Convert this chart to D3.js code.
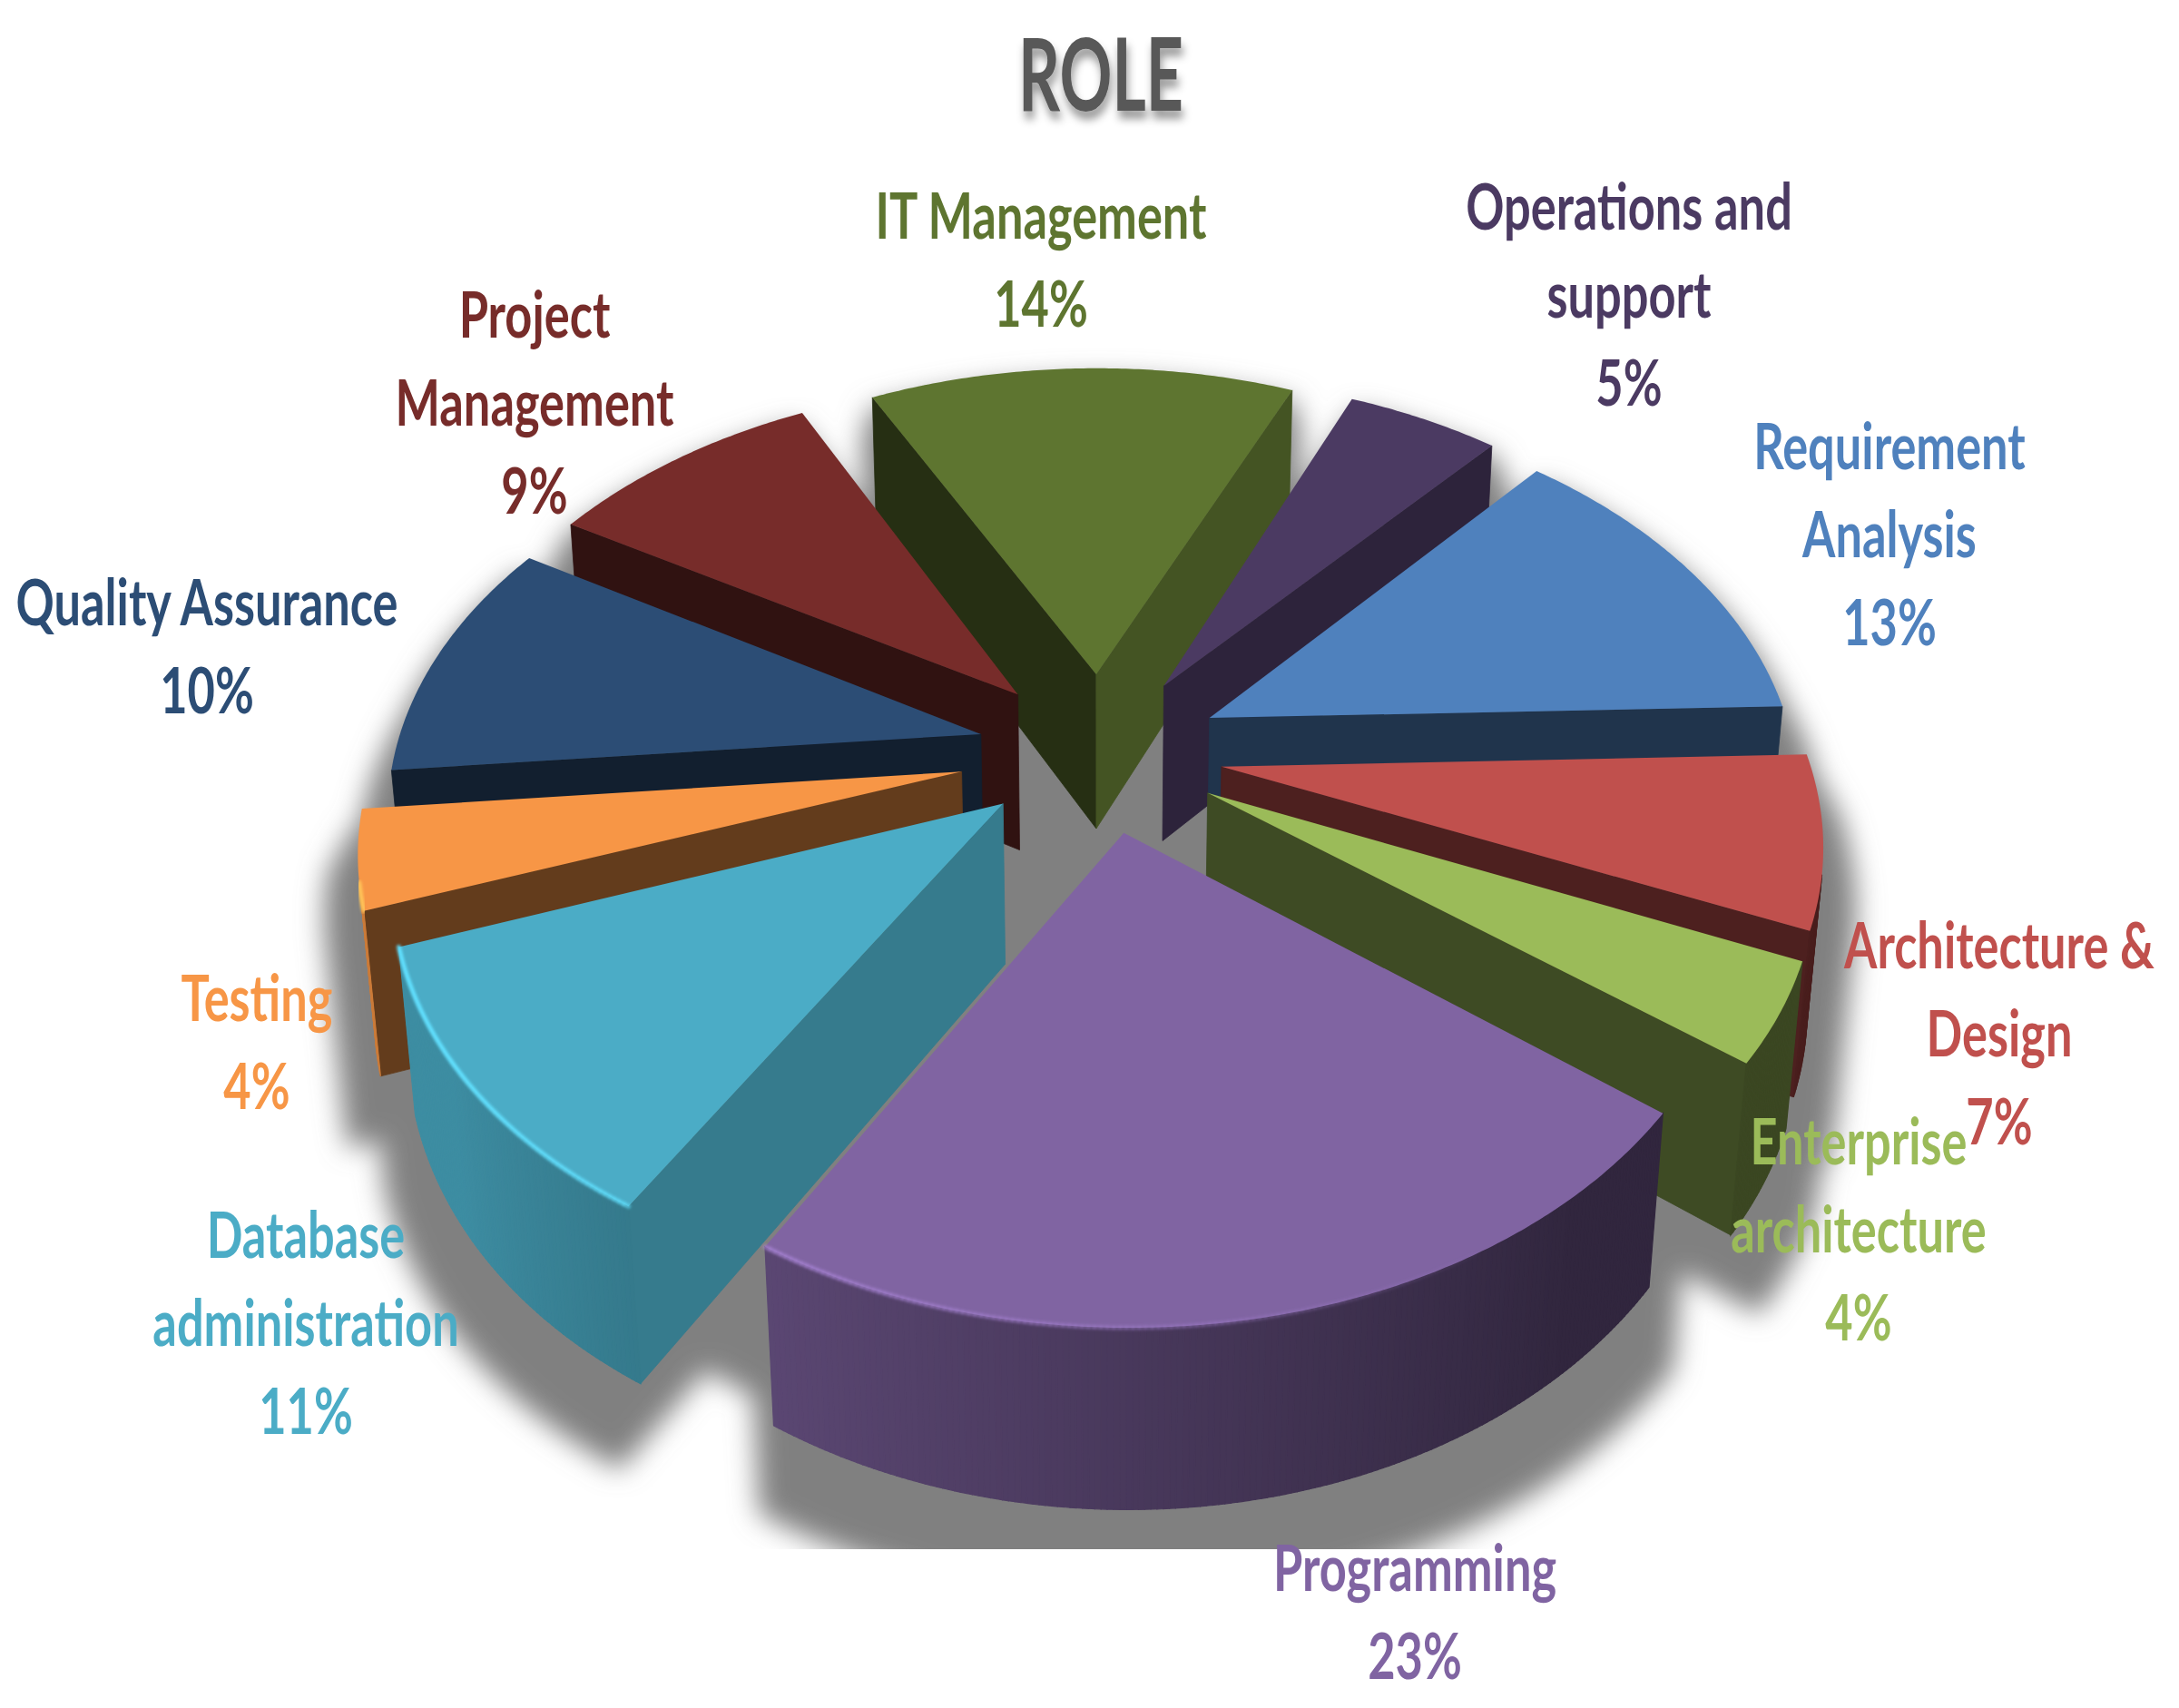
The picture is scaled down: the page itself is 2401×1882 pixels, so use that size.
<!DOCTYPE html>
<html>
<head>
<meta charset="utf-8">
<script src="https://cdn.jsdelivr.net/npm/d3@7"></script>
<style>
  html, body { margin: 0; background: #fff; }
  svg { display: block; }
</style>
</head>
<body>
<svg id="chart"></svg>
<script>
const W = 2401, H = 1882;
const DEG = Math.PI / 180, TAU = Math.PI * 2;

// ---- data (clockwise from the top) ----
const roles = ["IT Management", "Operations and support", "Requirement Analysis",
    "Architecture & Design", "Enterprise architecture", "Programming",
    "Database administration", "Testing", "Quality Assurance", "Project Management"];
const shares = [14, 5, 13, 7, 4, 23, 11, 4, 10, 9];
const labelLines = [
    ["IT Management"],
    ["Operations and", "support"],
    ["Requirement", "Analysis"],
    ["Architecture &", "Design"],
    ["Enterprise", "architecture"],
    ["Programming"],
    ["Database", "administration"],
    ["Testing"],
    ["Quality Assurance"],
    ["Project", "Management"]
];
const colours = ["#5e7530", "#4b3a62", "#4f81bd", "#c0504d", "#9bbb59",
    "#8064a2", "#4bacc6", "#f79646", "#2c4d75", "#772c2a"];

// point explosion (fraction of radius), as set on the original chart
const explodeBy = [0.21, 0.21, 0.21, 0.21, 0.21, 0.21, 0.21, 0.24, 0.21, 0.21];

// label blocks: centre x, first baseline (manually placed, like the original)
const labelAt = [[1147, 263], [1795, 253], [2082, 517], [2203, 1067], [2048, 1283],
    [1559, 1753], [337, 1386], [283, 1125], [228, 689], [589, 372]];

// ---- 3d view ----
const view = {
    cx: 1212, cy: 828,
    kx: 645, ky: 866,
    tilt: 29 * DEG,
    dist: 5.21,
    depth: 0.235,
    rotation: -27 * DEG,
    shadowTop: 420, shadowDrop: 45, shadowGrow: 0.045
};
const sinT = Math.sin(view.tilt), cosT = Math.cos(view.tilt);
const camera = [0, view.dist * cosT, view.dist * sinT];

function project(x, y, z) {
    const v = z * cosT - y * sinT;
    const d = y * cosT + z * sinT;
    const p = 1 / (1 - d / view.dist);
    return [view.cx + view.kx * x * p, view.cy - view.ky * v * p];
}

function facing(P, n) {
    return (camera[0] - P[0]) * n[0] + (camera[1] - P[1]) * n[1] + (camera[2] - P[2]) * n[2] > 0;
}

function shade(c, k) {
    const r = d3.rgb(c);
    return d3.rgb(r.r * k, r.g * k, r.b * k).formatHex();
}

function wallLight(deg) {
    deg = ((deg % 360) + 360) % 360;
    if (deg <= 140) return 0.38;
    if (deg < 235) return 0.38 + 0.44 * (deg - 140) / 95;
    return 0.82;
}

function faceLight(deg) {
    deg = ((deg % 360) + 360) % 360;
    if (deg <= 120) return 0.72;
    if (deg < 150) return 0.72 - 0.32 * (deg - 120) / 30;
    return 0.4;
}

const closed = pts => d3.line()(pts) + "Z";

const total = d3.sum(shares);
const pie = d3.pie().sort(null).value(d => d)
    .startAngle(view.rotation).endAngle(view.rotation + TAU);

const slices = pie(shares).map((a, i) => {
    const mid = (a.startAngle + a.endAngle) / 2;
    return {
        i, a0: a.startAngle, a1: a.endAngle, mid,
        ox: explodeBy[i] * Math.sin(mid),
        oy: -explodeBy[i] * Math.cos(mid),
        colour: colours[i]
    };
});

function rim(s, th, z) {
    return project(s.ox + Math.sin(th), s.oy - Math.cos(th), z);
}
function apex(s, z) {
    return project(s.ox, s.oy, z);
}
function arcAngles(s) {
    const n = Math.max(2, Math.ceil((s.a1 - s.a0) / (0.5 * DEG)));
    return d3.range(n + 1).map(j => s.a0 + (s.a1 - s.a0) * j / n);
}
function slicePoints(s) {
    const pts = [apex(s, 0), apex(s, -view.depth)];
    arcAngles(s).forEach(t => { pts.push(rim(s, t, 0)); pts.push(rim(s, t, -view.depth)); });
    return pts;
}

// ---- svg ----
const svg = d3.select("#chart").attr("width", W).attr("height", H)
    .attr("viewBox", `0 0 ${W} ${H}`);
const defs = svg.append("defs");
defs.append("filter").attr("id", "soft")
    .attr("x", "-20%").attr("y", "-20%").attr("width", "140%").attr("height", "140%")
    .append("feGaussianBlur").attr("stdDeviation", 15);
defs.append("filter").attr("id", "glow")
    .attr("x", "-10%").attr("y", "-10%").attr("width", "120%").attr("height", "120%")
    .append("feGaussianBlur").attr("stdDeviation", 1.8);
defs.append("filter").attr("id", "titleShadow")
    .attr("x", "-30%").attr("y", "-30%").attr("width", "160%").attr("height", "180%")
    .append("feDropShadow").attr("dx", 2).attr("dy", 9).attr("stdDeviation", 5)
    .attr("flood-color", "#000").attr("flood-opacity", 0.4);
defs.append("clipPath").attr("id", "floorClip")
    .append("rect").attr("width", W).attr("height", 1707);

// floor shadow
const floor = d3.range(0, 361, 3).map(d => project(Math.sin(d * DEG), -Math.cos(d * DEG), -view.depth));
const shadowShapes = [floor].concat(slices.map(s => d3.polygonHull(slicePoints(s))));
const shadowG = svg.append("g").attr("clip-path", "url(#floorClip)")
    .append("g").attr("filter", "url(#soft)");
[0.3, 0.45, 0.6, 0.75, 0.9, 1].forEach(t => {
    const k = 1 + view.shadowGrow * t, dy = view.shadowDrop * t;
    shadowG.append("g")
        .attr("transform", `translate(${view.cx},${view.shadowTop + dy}) scale(${k}) translate(${-view.cx},${-view.shadowTop})`)
        .selectAll("path").data(shadowShapes).join("path")
        .attr("d", closed).attr("fill", "#808080");
});

// slices, back to front
const pieG = svg.append("g");
slices.slice().sort((a, b) => a.oy - b.oy).forEach(s => {
    const g = pieG.append("g").attr("class", "slice");
    const h = view.depth;

    // radial cut faces
    [[s.a0, [-Math.cos(s.a0), -Math.sin(s.a0), 0], s.a0 / DEG - 90],
     [s.a1, [Math.cos(s.a1), Math.sin(s.a1), 0], s.a1 / DEG + 90]].forEach(([th, n, nDeg]) => {
        const P = [s.ox + 0.5 * Math.sin(th), s.oy - 0.5 * Math.cos(th), -h / 2];
        if (!facing(P, n)) return;
        const col = shade(s.colour, faceLight(nDeg));
        g.append("path")
            .attr("d", closed([apex(s, 0), rim(s, th, 0), rim(s, th, -h), apex(s, -h)]))
            .attr("fill", col).attr("stroke", col).attr("stroke-width", 0.8);
    });

    // outer wall
    const ang = arcAngles(s);
    const lit = [];
    for (let j = 0; j < ang.length - 1; j++) {
        const t0 = ang[j], t1 = ang[j + 1], tm = (t0 + t1) / 2;
        const n = [Math.sin(tm), -Math.cos(tm), 0];
        const P = [s.ox + n[0], s.oy + n[1], -h / 2];
        if (!facing(P, n)) continue;
        const k = wallLight(tm / DEG);
        const col = shade(s.colour, k);
        g.append("path")
            .attr("d", closed([rim(s, t0, 0), rim(s, t1, 0), rim(s, t1, -h), rim(s, t0, -h)]))
            .attr("fill", col).attr("stroke", col).attr("stroke-width", 1.2);
        lit.push([t0, t1, k]);
    }

    // top face
    const top = [apex(s, 0)].concat(ang.map(t => rim(s, t, 0)));
    g.append("path").attr("d", closed(top)).attr("fill", s.colour);

    // bevel highlight on the lit rim
    const hl = g.append("g").attr("filter", "url(#glow)");
    const bright = d3.rgb(s.colour).brighter(0.75).formatHex();
    lit.forEach(([t0, t1, k]) => {
        const a = Math.max(0, Math.min(1, (k - 0.42) / 0.4)) * 0.85;
        if (a <= 0.02) return;
        hl.append("path")
            .attr("d", d3.line()([rim(s, t0, 0), rim(s, t1, 0)]))
            .attr("stroke", bright).attr("stroke-width", 5)
            .attr("stroke-linecap", "round").attr("opacity", a).attr("fill", "none");
    });
});

// ---- labels ----
const pct = d3.format(".0%");
const labelG = svg.append("g")
    .attr("font-family", "Lato, 'Open Sans', sans-serif")
    .attr("font-weight", 700).attr("font-size", 70);
const probe = labelG.append("text").text("Quality Assurance");
const squeeze = 421 / probe.node().getComputedTextLength();
probe.remove();

slices.forEach((s, i) => {
    const lines = labelLines[i].concat(pct(shares[i] / total));
    labelG.append("g")
        .attr("transform", `translate(${labelAt[i][0]},${labelAt[i][1]}) scale(${squeeze},1)`)
        .selectAll("text").data(lines).join("text")
        .attr("x", 0).attr("y", (d, j) => j * 97)
        .attr("text-anchor", "middle")
        .attr("fill", colours[i])
        .text(d => d);
});

// ---- title ----
const titleG = svg.append("g").attr("filter", "url(#titleShadow)");
const title = titleG.append("text")
    .attr("font-family", "Lato, 'Open Sans', sans-serif")
    .attr("font-weight", 700).attr("font-size", 111)
    .attr("fill", "#595959").attr("text-anchor", "middle")
    .text("ROLE");
const tSqueeze = 182 / title.node().getComputedTextLength();
title.attr("transform", `translate(1213,122) scale(${tSqueeze},1)`);
</script>
</body>
</html>
